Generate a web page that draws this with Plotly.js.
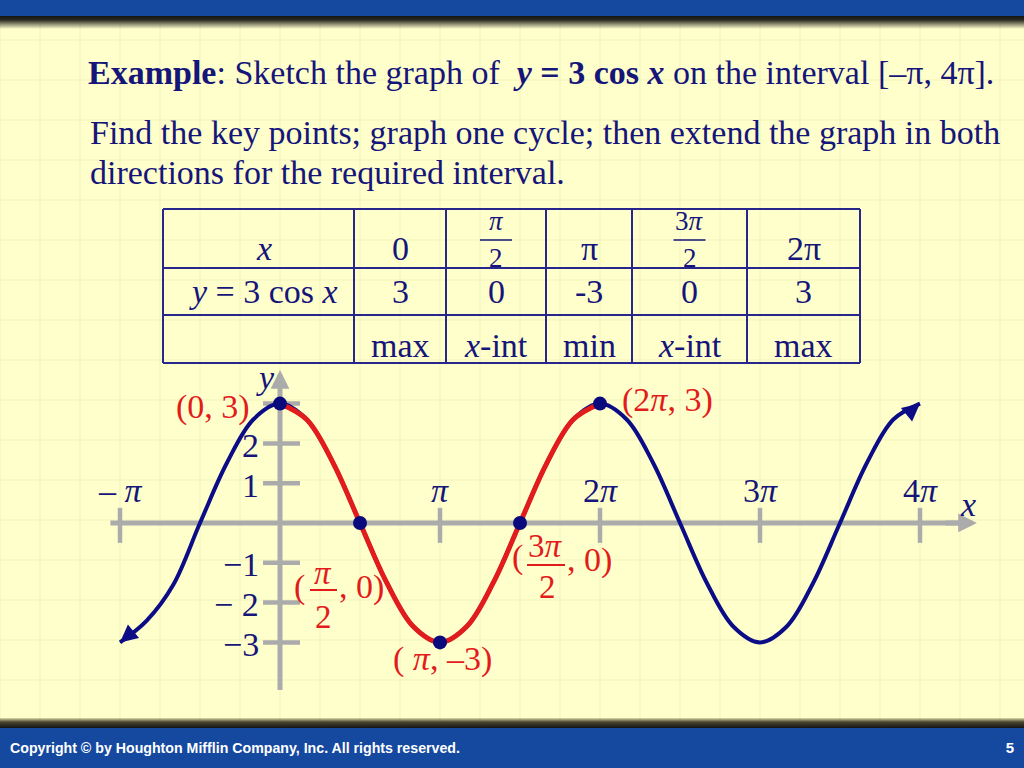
<!DOCTYPE html>
<html><head><meta charset="utf-8">
<script src="https://cdn.plot.ly/plotly-3.0.1.min.js"></script>
<style>
html,body{margin:0;padding:0;width:1024px;height:768px;overflow:hidden;}
body{position:relative;background-color:#ffffcc;
 background-image:linear-gradient(to right, rgba(205,205,140,0.13) 2px, transparent 2px),
                  linear-gradient(to bottom, rgba(205,205,140,0.13) 2px, transparent 2px);
 background-size:40px 40px;background-position:-1px -1px;}
#topbar{position:absolute;left:0;top:0;width:1024px;height:16px;background:#15499f;}
#topshadow{position:absolute;left:0;top:16px;width:1024px;height:13px;
 background:linear-gradient(to bottom,#141414 0%,#2b2a22 30%,rgba(255,255,204,0) 100%);}
#botshadow{position:absolute;left:0;top:718px;width:1024px;height:10px;
 background:linear-gradient(to bottom,rgba(120,110,60,0.25),#4a4530 40%,#141414 100%);}
#botbar{position:absolute;left:0;top:728px;width:1024px;height:40px;background:#15499f;}
#copy{position:absolute;left:10px;top:739px;color:#fff;font:bold 15px "Liberation Sans",Arial,sans-serif;
 transform:scaleX(0.945);transform-origin:left center;white-space:nowrap;}
#pnum{position:absolute;right:10px;top:739px;color:#fff;font:bold 15px "Liberation Sans",Arial,sans-serif;}
#chart{position:absolute;left:0;top:0;width:1024px;height:768px;}
</style></head>
<body>
<div id="topbar"></div><div id="topshadow"></div>
<div id="botshadow"></div><div id="botbar"></div>
<div id="copy">Copyright © by Houghton Mifflin Company, Inc. All rights reserved.</div>
<div id="pnum">5</div>
<div id="chart"></div>
<script>
// ---------- data (x measured in multiples of π) ----------
const curveX = [-1, -0.833, -0.667, -0.5, -0.333, -0.167, 0, 0.167, 0.333, 0.5, 0.667, 0.833, 1,
                1.167, 1.333, 1.5, 1.667, 1.833, 2, 2.167, 2.333, 2.5, 2.667, 2.833, 3,
                3.167, 3.333, 3.5, 3.667, 3.833, 4];
const curveY = [-3, -2.45, -1.55, 0, 1.5, 2.6, 3, 2.6, 1.5, 0, -1.5, -2.6, -3,
                -2.6, -1.5, 0, 1.5, 2.6, 3, 2.6, 1.5, 0, -1.5, -2.6, -3,
                -2.6, -1.5, 0, 1.5, 2.6, 3];
const cycleX = [0, 0.167, 0.333, 0.5, 0.667, 0.833, 1, 1.167, 1.333, 1.5, 1.667, 1.833, 2];
const cycleY = [3, 2.6, 1.5, 0, -1.5, -2.6, -3, -2.6, -1.5, 0, 1.5, 2.6, 3];
const keyX = [0, 0.5, 1, 1.5, 2];
const keyY = [3, 0, -3, 0, 3];

const xTickVals = [-1, 1, 2, 3, 4];
const xTickText = ['–\u00a0<i>π</i>', '<i>π</i>', '2<i>π</i>', '3<i>π</i>', '4<i>π</i>'];
const yTickVals = [3, 2, 1, -1, -2, -3];
const yTickText = ['', '2', '1', '−1', '−\u00a02', '−3'];

const tableRowHeads = ['<i>x</i>', '<i>y</i> = 3 cos <i>x</i>', ''];
const tableXNum = ['0', '<i>π</i>', 'π', '3<i>π</i>', '2π'];
const tableXDen = ['', '2', '', '2', ''];
const tableYVals = ['3', '0', '-3', '0', '3'];
const tableNotes = ['max', '<i>x</i>-int', 'min', '<i>x</i>-int', 'max'];

const titleText = '<b>Example</b>: Sketch the graph of \u00a0<b><i>y</i> = 3 cos <i>x</i></b> on the interval [–π, 4π].';
const paraLines = ['Find the key points; graph one cycle; then extend the graph in both',
                   'directions for the required interval.'];

// ---------- style / geometry ----------
const W = 1024, H = 768;
const SERIF = '"Liberation Serif","Times New Roman",serif';
const FS = 34;
const NAVY = '#15157a', CURVE = '#0c0c86', RED = '#e21c1c', GRAY = '#ababab', TLINE = '#26268c', DOT = '#0a0a7c';
const px = p => p / W, py = p => 1 - p / H;

const colEdges = [163, 354, 446, 546, 632, 747, 860];
const rowEdges = [209, 268, 315, 363];

const shapes = [];
const annotations = [];

function paperText(text, x, y, size, opt) {
  annotations.push(Object.assign({
    xref: 'paper', yref: 'paper', x: px(x), y: py(y), text: text, showarrow: false,
    xanchor: 'center', yanchor: 'middle',
    font: {family: SERIF, size: size, color: NAVY}
  }, opt || {}));
}
function paperLine(x0, y0, x1, y1, color, w) {
  shapes.push({type: 'line', xref: 'paper', yref: 'paper', x0: px(x0), y0: py(y0), x1: px(x1), y1: py(y1),
               line: {color: color, width: w}});
}

// paragraph
paraLines.forEach((t, i) => paperText(t, 88, 132 + 40 * i, FS, {xanchor: 'left'}));

// table
rowEdges.forEach(y => paperLine(colEdges[0], y, colEdges[colEdges.length - 1], y, TLINE, 2));
colEdges.forEach(x => paperLine(x, rowEdges[0], x, rowEdges[rowEdges.length - 1], TLINE, 2));
const rowMid = [248, 292, 346];
tableRowHeads.forEach((t, i) => { if (t) paperText(t, (colEdges[0] + colEdges[1]) / 2 + 5, rowMid[i], FS); });
for (let c = 0; c < 5; c++) {
  const cx = (colEdges[c + 1] + colEdges[c + 2]) / 2;
  if (tableXDen[c]) {
    paperText(tableXNum[c], cx, 221, 27);
    paperLine(cx - 16, 240, cx + 16, 240, NAVY, 1.5);
    paperText(tableXDen[c], cx, 258, 27);
  } else {
    paperText(tableXNum[c], cx, rowMid[0], FS);
  }
  paperText(tableYVals[c], cx, rowMid[1], FS);
  paperText(tableNotes[c], cx, rowMid[2], FS);
}

// ---------- graph: axes ----------
shapes.push({type: 'line', xref: 'x', yref: 'y', x0: -1.06, x1: 4.25, y0: 0, y1: 0, layer: 'below',
             line: {color: GRAY, width: 5}});
shapes.push({type: 'line', xref: 'x', yref: 'y', x0: 0, x1: 0, y0: -4.196, y1: 3.6, layer: 'below',
             line: {color: GRAY, width: 5}});
xTickVals.forEach(v => shapes.push({type: 'line', xref: 'x', yref: 'y', x0: v, x1: v, y0: -0.5, y1: 0.38,
                                    layer: 'below', line: {color: GRAY, width: 4.5}}));
yTickVals.forEach(v => shapes.push({type: 'line', xref: 'x', yref: 'y', x0: -0.106, x1: 0.125, y0: v, y1: v,
                                    layer: 'below', line: {color: GRAY, width: 4.5}}));
function arrow(x, y, ax, ay, color, w, size) {
  annotations.push({xref: 'x', yref: 'y', axref: 'x', ayref: 'y', x: x, y: y, ax: ax, ay: ay, text: '',
                    showarrow: true, arrowhead: 2, arrowsize: size, arrowwidth: w, arrowcolor: color});
}
arrow(4.356, 0, 4.15, 0, GRAY, 5, 0.75);
arrow(0, 3.844, 0, 3.4, GRAY, 5, 0.75);
// curve end arrows
arrow(-1, -3, -0.94, -2.8, CURVE, 3.5, 1.0);
arrow(4, 3, 3.94, 2.8, CURVE, 3.5, 1.0);

xTickVals.forEach((v, i) => annotations.push({xref: 'x', yref: 'y', x: v, y: 0, yshift: 32, text: xTickText[i],
  showarrow: false, xanchor: 'center', yanchor: 'middle', font: {family: SERIF, size: FS, color: NAVY}}));
yTickVals.forEach((v, i) => { if (yTickText[i]) annotations.push({xref: 'x', yref: 'y', x: 0, y: v, xshift: -19, yshift: -2,
  text: yTickText[i], showarrow: false, xanchor: 'right', yanchor: 'middle', font: {family: SERIF, size: FS, color: NAVY}}); });
annotations.push({xref: 'x', yref: 'y', x: 4.3, y: 0, yshift: 18, text: '<i>x</i>', showarrow: false,
  font: {family: SERIF, size: FS, color: NAVY}});
annotations.push({xref: 'x', yref: 'y', x: 0, y: 3.844, xshift: -15, yshift: -8, text: '<i>y</i>', showarrow: false,
  font: {family: SERIF, size: FS, color: NAVY}});

// ---------- key point labels ----------
function lab(i, text, dx, dy, anchor, size) {
  annotations.push({xref: 'x', yref: 'y', x: keyX[i], y: keyY[i], xshift: dx, yshift: dy, text: text,
    showarrow: false, xanchor: anchor || 'center', yanchor: 'middle', font: {family: SERIF, size: size || FS, color: RED}});
}
function bar(i, x0, x1, y) {
  shapes.push({type: 'line', xref: 'x', yref: 'y', xsizemode: 'pixel', ysizemode: 'pixel',
    xanchor: keyX[i], yanchor: keyY[i], x0: x0, x1: x1, y0: y, y1: y, line: {color: RED, width: 2}});
}
lab(0, '(0, 3)', -28, -3, 'right');
lab(4, '(2<i>π</i>, 3)', 20, 4, 'left');
lab(2, '(\u00a0<i>π</i>, –3)', 2, -17, 'center');
// (π/2, 0)
lab(1, '(', -53, -64, 'right');
lab(1, '<i>π</i>', -37, -50, 'center', 33);
bar(1, -50, -23, -67);
lab(1, '2', -37, -94, 'center', 33);
lab(1, ', 0)', -23, -64, 'left');
// (3π/2, 0)
lab(3, '(', 5, -34, 'right');
lab(3, '3<i>π</i>', 25, -23, 'center', 33);
bar(3, 7, 45, -42);
lab(3, '2', 27, -64, 'center', 33);
lab(3, ', 0)', 45, -37, 'left');

// ---------- traces ----------
const traces = [
  {x: curveX, y: curveY, type: 'scatter', mode: 'lines', line: {shape: 'spline', color: CURVE, width: 4}, hoverinfo: 'skip'},
  {x: cycleX, y: cycleY, type: 'scatter', mode: 'lines', line: {shape: 'spline', color: RED, width: 5}, hoverinfo: 'skip'},
  {x: keyX, y: keyY, type: 'scatter', mode: 'markers', marker: {size: 14, color: DOT}, cliponaxis: false, hoverinfo: 'skip'}
];

const layout = {
  width: W, height: H, margin: {l: 0, r: 0, t: 0, b: 0},
  paper_bgcolor: 'rgba(0,0,0,0)', plot_bgcolor: 'rgba(0,0,0,0)', showlegend: false,
  title: {text: titleText, xref: 'container', yref: 'container', x: 88 / W, xanchor: 'left', y: 1 - 72 / H, yanchor: 'middle',
          font: {family: SERIF, size: FS, color: NAVY}},
  xaxis: {domain: [100 / W, 1000 / W], range: [-1.125, 4.5], visible: false, fixedrange: true},
  yaxis: {domain: [1 - 700 / H, 1 - 360 / H], range: [-4.447, 4.095], visible: false, fixedrange: true},
  shapes: shapes, annotations: annotations
};
Plotly.newPlot('chart', traces, layout, {staticPlot: true, displayModeBar: false});
</script>
</body></html>
